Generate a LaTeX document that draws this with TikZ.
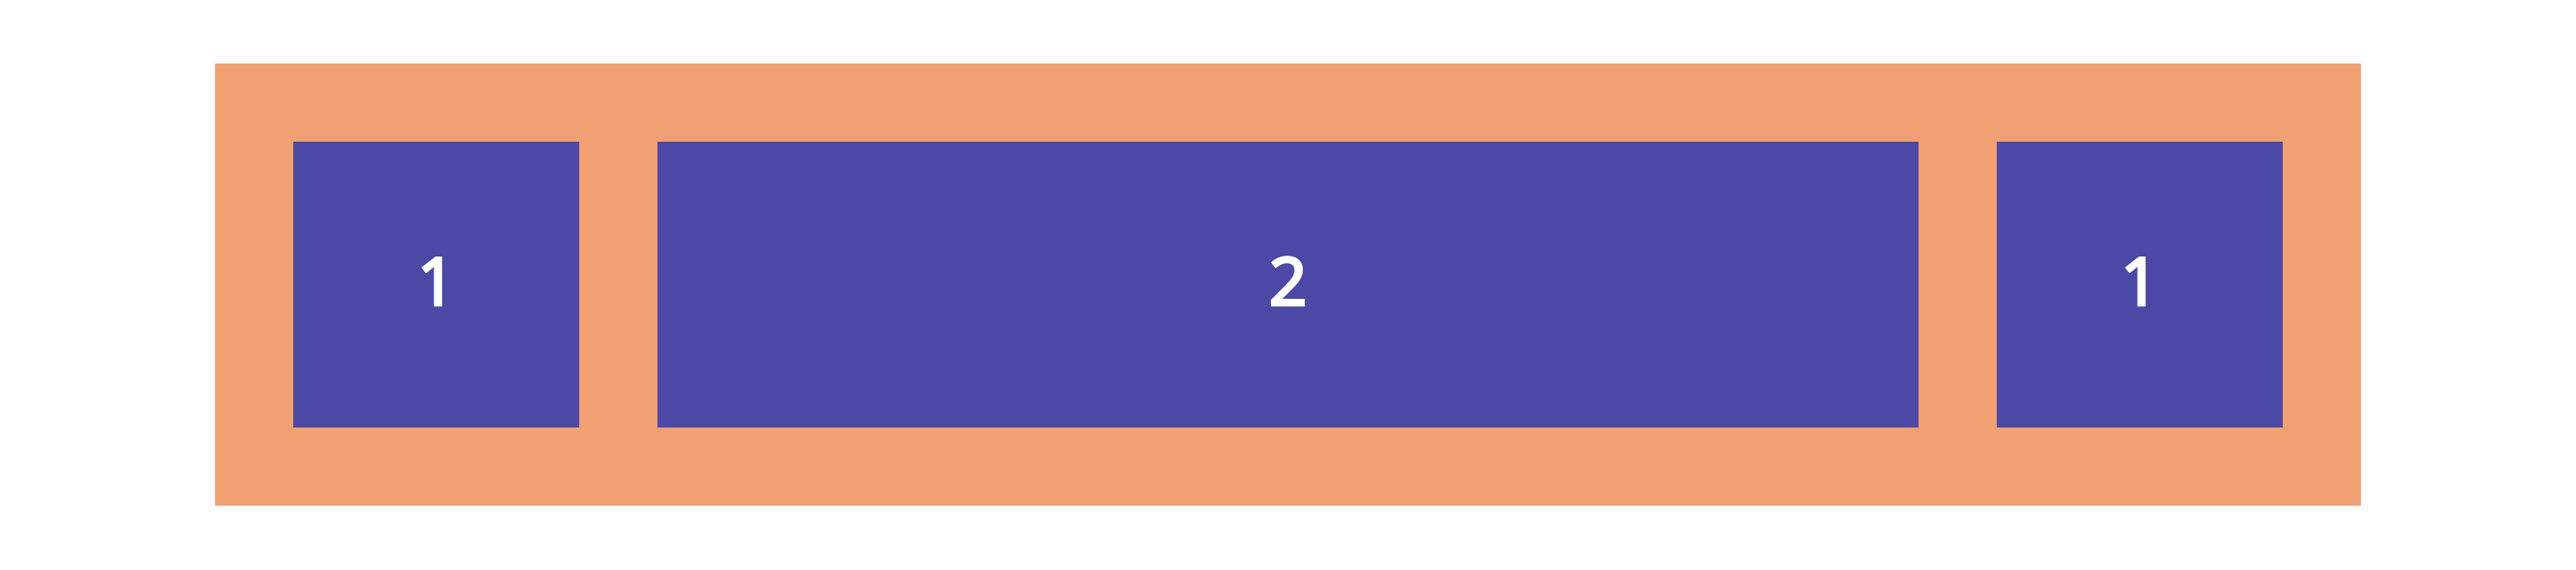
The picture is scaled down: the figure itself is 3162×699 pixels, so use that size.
\documentclass[tikz,border=0pt]{standalone}
\usepackage{fontspec}
\newfontfamily\numfont[FakeBold=3.5]{Noto Sans}
\definecolor{outerorange}{HTML}{F1A073}
\definecolor{innerpurple}{HTML}{4B48A6}
\tikzset{
  itembox/.style={fill=innerpurple, draw=none, inner sep=0pt, minimum height=351pt},
  numlabel/.style={text=white, inner sep=0pt, anchor=base, font=\numfont\fontsize{82}{82}\selectfont},
}
\begin{document}
\begin{tikzpicture}[x=1pt,y=-1pt]
  \useasboundingbox (0,0) rectangle (3162,699);
  \fill[white] (0,0) rectangle (3162,699);
  \node[fill=outerorange, inner sep=0pt, minimum width=2634pt, minimum height=543pt] (outer) at (1581,349.5) {};
  \node[itembox, minimum width=351pt] (b1) at (535.5,349.5) {};
  \node[itembox, minimum width=1548pt] (b2) at (1581,349.5) {};
  \node[itembox, minimum width=351pt] (b3) at (2626.5,349.5) {};
  \node[numlabel] (t1) at ([yshift=-25.5pt]b1.center) {1};
  \node[numlabel] (t2) at ([yshift=-25.5pt]b2.center) {2};
  \node[numlabel] (t3) at ([yshift=-25.5pt]b3.center) {1};
\end{tikzpicture}
\end{document}
